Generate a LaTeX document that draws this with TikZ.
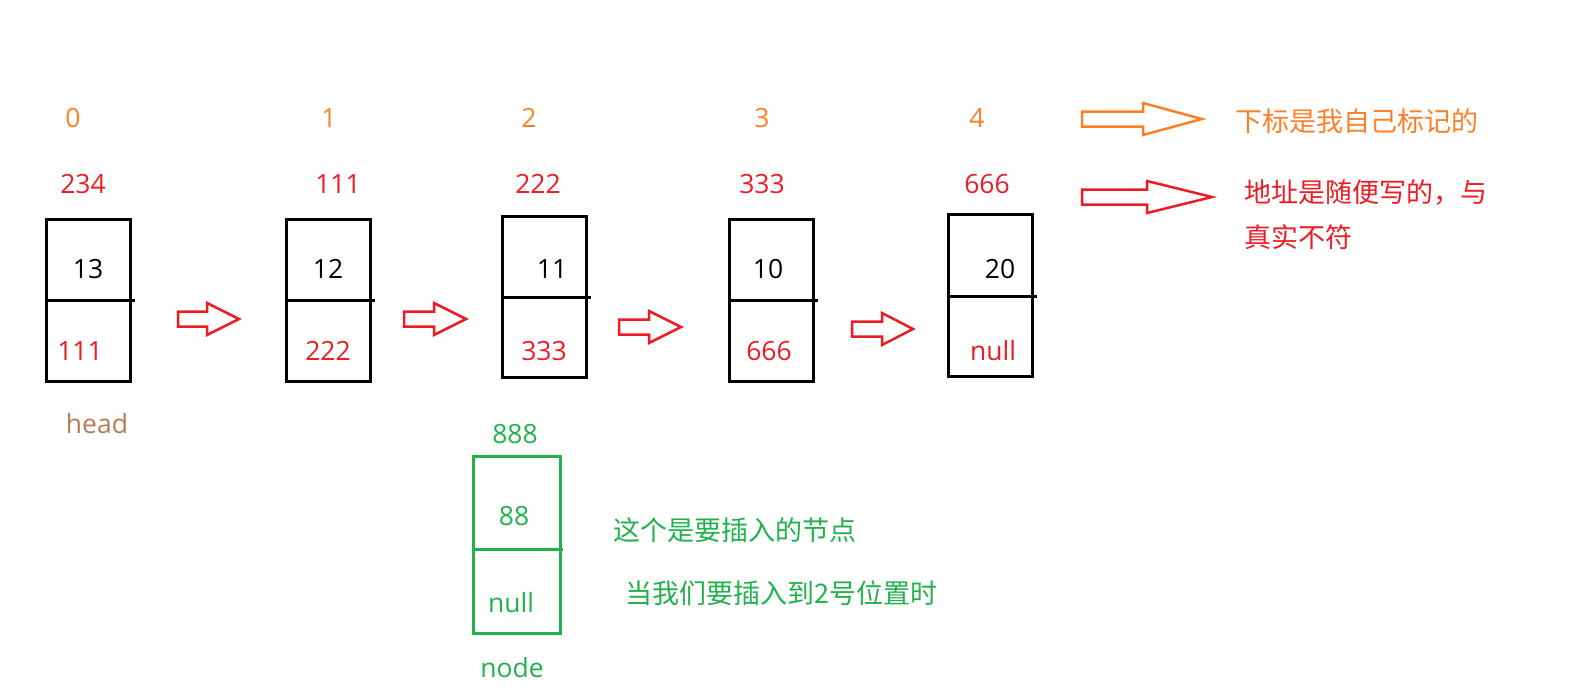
\documentclass[tikz,border=0pt]{standalone}
\usepackage{fontspec}
\setmainfont{Open Sans}
\newfontfamily\cjk{Noto Sans CJK SC}
\definecolor{idxorange}{HTML}{FF7F27}
\definecolor{addrred}{HTML}{ED1C24}
\definecolor{newgreen}{HTML}{22B14C}
\definecolor{headbrown}{HTML}{B97A57}

\begin{document}
\begin{tikzpicture}[
        x=1pt, y=-1pt,
        every node/.style={font=\fontsize{26.5}{30}\selectfont, inner sep=0pt},
        cell/.style={draw, line width=3pt, minimum width=84pt, minimum height=162pt},
        divider/.style={line width=3pt},
        idx/.style={text=idxorange, anchor=base},
        addr/.style={text=addrred, anchor=base},
        val/.style={text=black, anchor=base},
        nxt/.style={text=addrred, anchor=base},
        note/.style={anchor=west, font=\cjk\fontsize{27}{30}\selectfont},
        fat/.style={line width=2.5pt, line join=miter},
        pics/fatarrow/.style 2 args={
            code={\draw[fat] (0,-7.5) -- (#2,-7.5) -- (#2,-16) -- (#1,0)
                -- (#2,16) -- (#2,7.5) -- (0,7.5) -- cycle;}
        }
    ]
        \useasboundingbox (0,0) rectangle (1575,689);

        % the linked list
        \node[cell] (box0) at (88,300) {};
        \node[cell] (box1) at (328,300) {};
        \node[cell, minimum height=161pt] (box2) at (544,296.5) {};
        \node[cell] (box3) at (771,300) {};
        \node[cell] (box4) at (990,295) {};
        \draw[divider] (46,300) -- (135,300);
        \draw[divider] (286,300) -- (375,300);
        \draw[divider] (502,297) -- (591,297);
        \draw[divider] (729,300) -- (818,300);
        \draw[divider] (948,296) -- (1037,296);

        \node[idx] (idx0) at (73,127) {0};
        \node[idx] (idx1) at (329,127) {1};
        \node[idx] (idx2) at (529,127) {2};
        \node[idx] (idx3) at (762,127) {3};
        \node[idx] (idx4) at (977,127) {4};

        \node[addr] (addr0) at (83,193) {234};
        \node[addr] (addr1) at (338,193) {111};
        \node[addr] (addr2) at (538,193) {222};
        \node[addr] (addr3) at (762,193) {333};
        \node[addr] (addr4) at (987,193) {666};

        \node[val] (val0) at (88,278) {13};
        \node[val] (val1) at (328,278) {12};
        \node[val] (val2) at (552,278) {11};
        \node[val] (val3) at (768,278) {10};
        \node[val] (val4) at (1000,278) {20};

        \node[nxt] (nxt0) at (80,360) {111};
        \node[nxt] (nxt1) at (328,360) {222};
        \node[nxt] (nxt2) at (544,360) {333};
        \node[nxt] (nxt3) at (769,360) {666};
        \node[nxt] (nxt4) at (993,360) {null};

        \node[text=headbrown, anchor=base] (head) at (97,433) {head};

        \pic[draw=addrred] at (178,319) {fatarrow={61}{29}};
        \pic[draw=addrred] at (404,319) {fatarrow={62}{30}};
        \pic[draw=addrred] at (619,327) {fatarrow={62}{30}};
        \pic[draw=addrred] at (852,329) {fatarrow={61}{30}};

        % the node to insert
        \node[cell, draw=newgreen, minimum width=87pt, minimum height=177pt] (newbox) at (516.5,544.5) {};
        \draw[divider, newgreen] (473,549) -- (563,549);
        \node[text=newgreen, anchor=base] (newaddr) at (515,443) {888};
        \node[text=newgreen, anchor=base] (newval) at (514,525) {88};
        \node[text=newgreen, anchor=base] (newnxt) at (511,612) {null};
        \node[text=newgreen, anchor=base] (newname) at (512,677) {node};
        \node[note, text=newgreen] (note3) at (613,530) {这个是要插入的节点};
        \node[note, text=newgreen] (note4) at (625,593) {当我们要插入到2号位置时};

        % legend
        \pic[draw=idxorange] at (1082,119) {fatarrow={120}{61}};
        \pic[draw=addrred] at (1082,197) {fatarrow={130}{65}};
        \node[note, text=idxorange] (note1) at (1235,121) {下标是我自己标记的};
        \node[note, text=addrred] (note2) at (1244,193) {地址是随便写的，与};
        \node[note, text=addrred] (note2b) at (1244,237) {真实不符};
    \end{tikzpicture}
\end{document}
